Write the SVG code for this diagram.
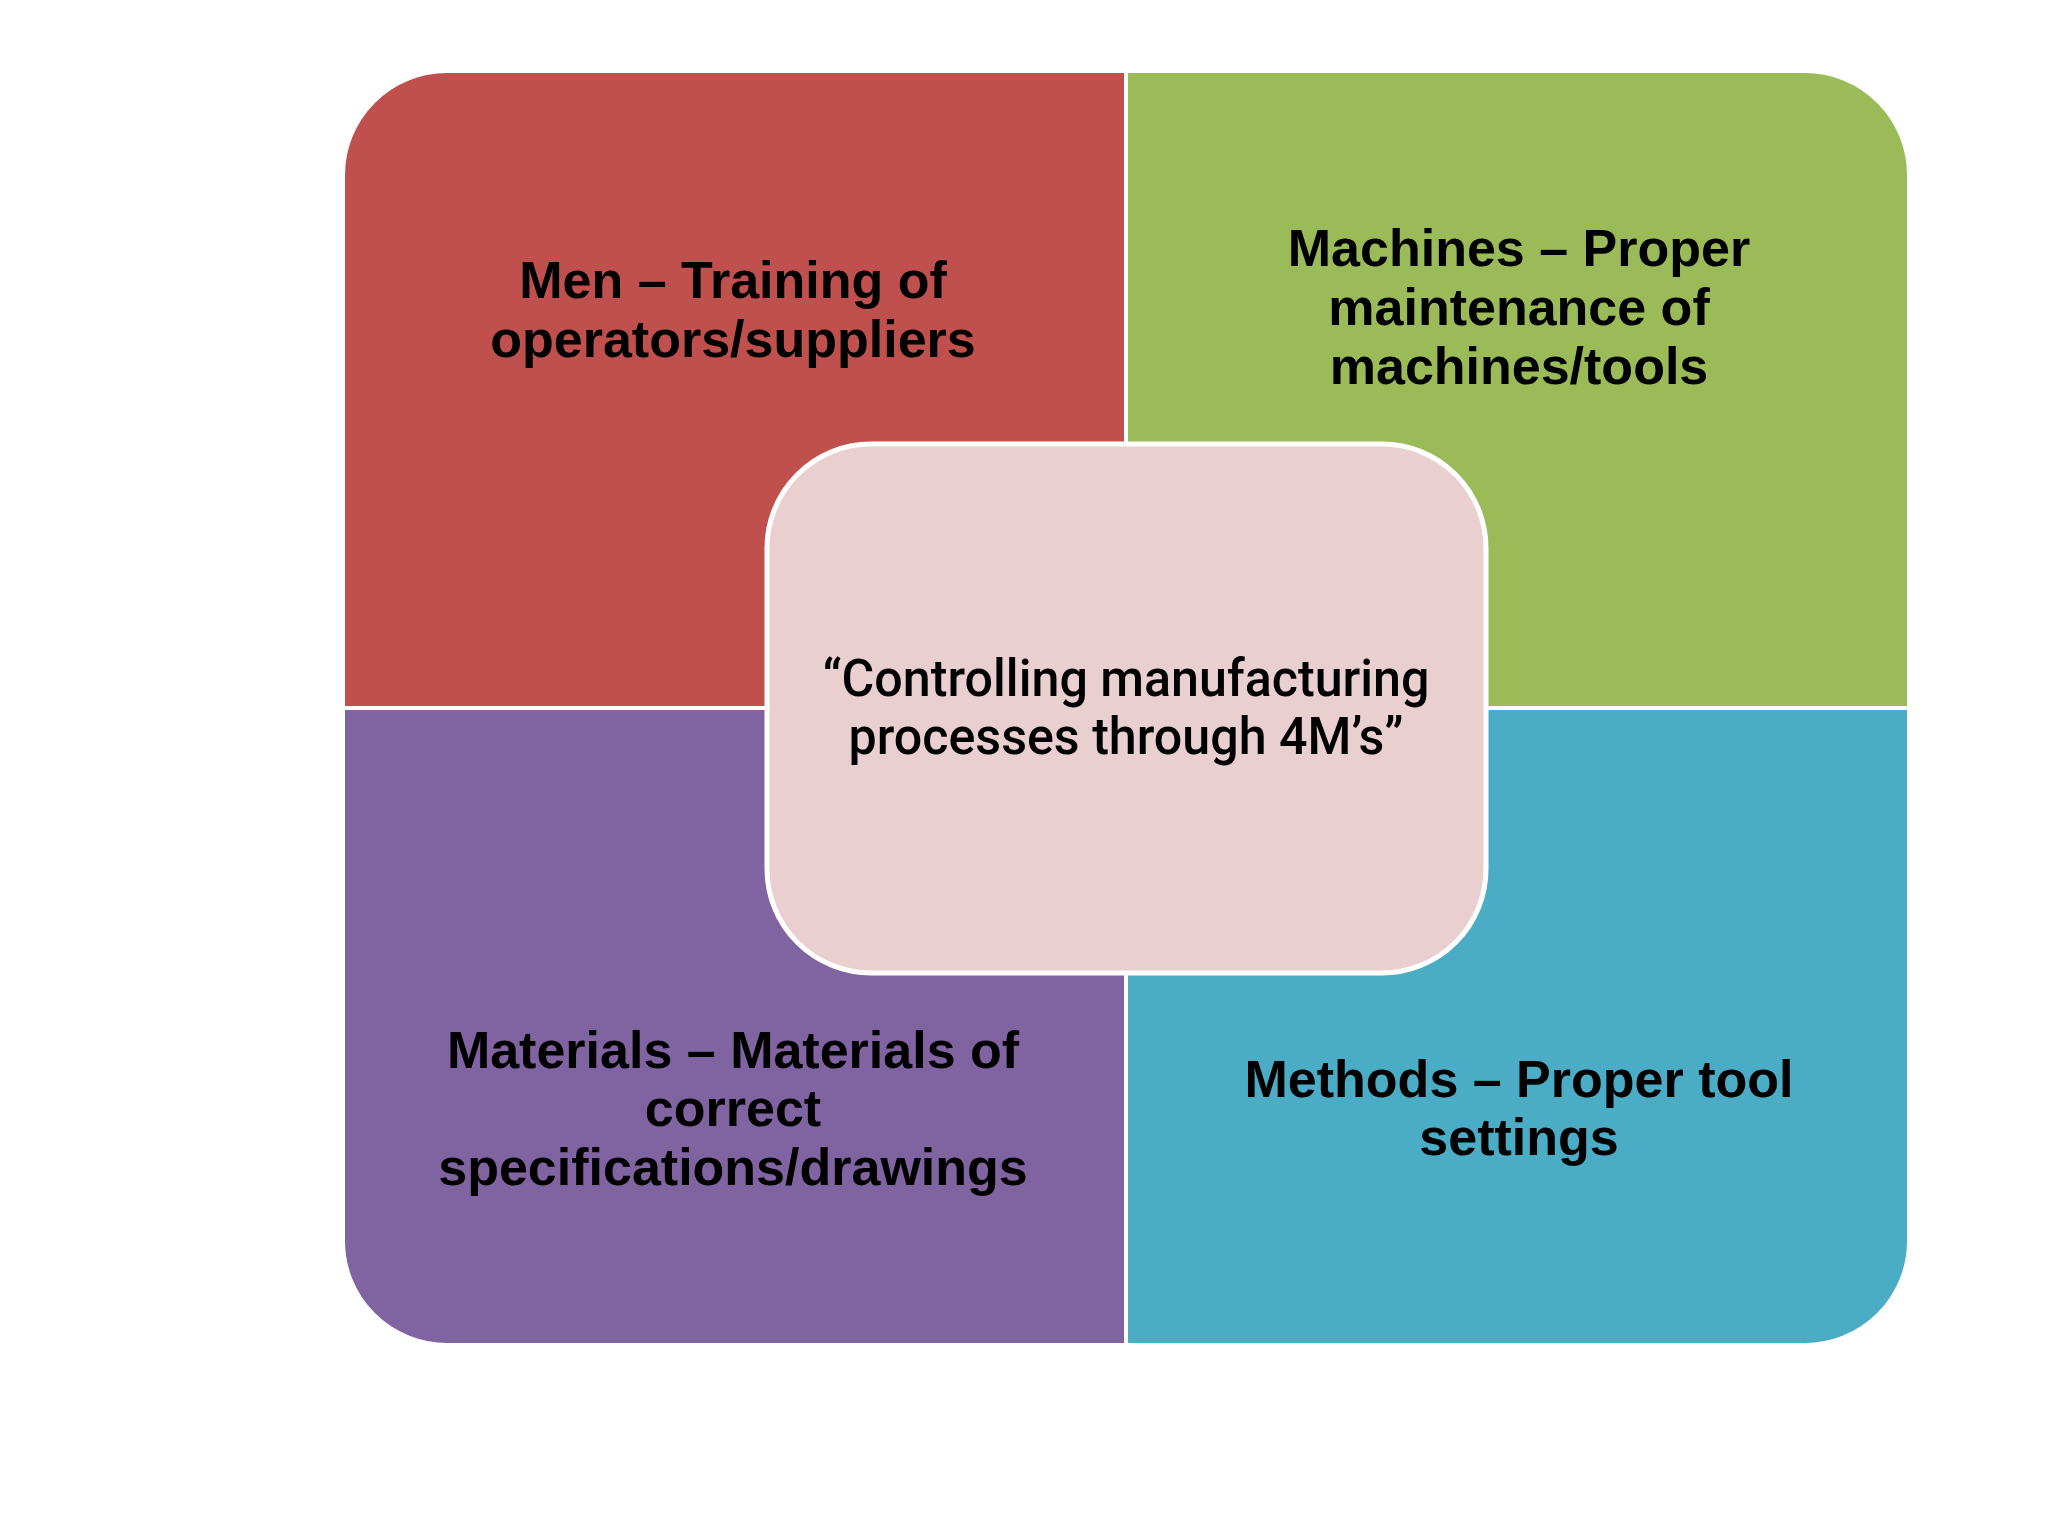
<svg xmlns="http://www.w3.org/2000/svg" width="2048" height="1536" viewBox="0 0 2048 1536">
<style>
.q{stroke:#fff;stroke-width:4}
.t{font-family:"Liberation Sans",Arial,sans-serif;font-weight:bold;font-size:52px;text-anchor:middle;fill:#000}
.c{font-family:Roboto,"Liberation Sans",sans-serif;font-weight:500;font-size:52px;text-anchor:middle;fill:#000}
</style>
<rect width="2048" height="1536" fill="#fff"/>
<g id="men"><path class="q" fill="#C0504D" d="M1126,71 H447 A104,104 0 0 0 343,175 V708 H1126 Z"/>
<text class="t" x="733" y="298">Men – Training of</text><text class="t" x="733" y="357">operators/suppliers</text></g>
<g id="machines"><path class="q" fill="#9BBB59" d="M1126,71 H1805 A104,104 0 0 1 1909,175 V708 H1126 Z"/>
<text class="t" x="1519" y="266">Machines – Proper</text><text class="t" x="1519" y="325">maintenance of</text><text class="t" x="1519" y="384">machines/tools</text></g>
<g id="materials"><path class="q" fill="#8064A2" d="M1126,1345 H447 A104,104 0 0 1 343,1241 V708 H1126 Z"/>
<text class="t" x="733" y="1068">Materials – Materials of</text><text class="t" x="733" y="1126">correct</text><text class="t" x="733" y="1185">specifications/drawings</text></g>
<g id="methods"><path class="q" fill="#4BACC6" d="M1126,1345 H1805 A104,104 0 0 0 1909,1241 V708 H1126 Z"/>
<text class="t" x="1519" y="1097">Methods – Proper tool</text><text class="t" x="1519" y="1155">settings</text></g>
<g id="connectors"/>
<g id="center"><rect x="767" y="444" width="719" height="529" rx="104" fill="#EACFD0" stroke="#fff" stroke-width="5"/>
<text class="c" x="1126" y="696" textLength="607" lengthAdjust="spacingAndGlyphs">“Controlling manufacturing</text><text class="c" x="1126" y="754" textLength="555" lengthAdjust="spacingAndGlyphs">processes through 4M’s”</text></g>
</svg>
